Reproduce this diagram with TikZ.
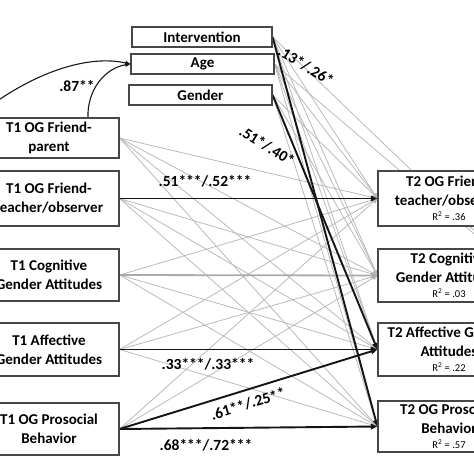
\documentclass[tikz,border=0pt]{standalone}
\usepackage{fontspec}
\setmainfont{Carlito}
\usetikzlibrary{arrows.meta}
\pgfdeclarelayer{bg}
\pgfsetlayers{bg,main}
\newcommand\rsqfont{\fontsize{10.5}{12}\selectfont\mdseries}
\begin{document}
\begin{tikzpicture}[x=1pt,y=-1pt,
  box/.style={draw=black!72,line width=1.2pt,fill=white,align=center,inner sep=0pt,
    font=\fontsize{15}{19}\selectfont\bfseries},
  lbox/.style={box,minimum width=140pt},
  rbox/.style={box,minimum width=142pt},
  tbox/.style={box,minimum height=20pt},
  lab/.style={font=\fontsize{15.5}{17}\selectfont\bfseries,inner sep=0pt},
  gline/.style={draw=black!28,line width=0.75pt,-{Triangle[length=5pt,width=4.5pt]}},
  gthick/.style={draw=black!33,line width=1.8pt,-{Triangle[length=6pt,width=5pt]}},
  bline/.style={draw=black!92,line width=1.9pt,-{Triangle[length=6.5pt,width=5.5pt]}},
  nline/.style={draw=black!28,line width=0.75pt},
  curve/.style={draw=black!90,line width=1.1pt,-{Triangle[length=5pt,width=4pt]}}]
\useasboundingbox (0,0) rectangle (474,474);

% covariate boxes
\node[tbox,minimum width=140pt] (int) at (202,37) {Intervention};
\node[tbox,minimum width=143pt] (age) at (202.5,64) {Age};
\node[tbox,minimum width=143pt] (gen) at (200.5,95) {Gender};

% T1 boxes
\node[lbox,minimum height=40pt] (fp) at (49,138) {T1 OG Friend-\\parent};
\node[lbox,minimum height=55pt] (t1ft) at (49,198.5) {T1 OG Friend-\\teacher/observer};
\node[lbox,minimum height=52pt] (t1cog) at (49,275) {T1 Cognitive\\Gender Attitudes};
\node[lbox,minimum height=53pt] (t1aff) at (49,349.5) {T1 Affective\\Gender Attitudes};
\node[lbox,minimum height=52pt] (t1pro) at (49,429) {T1 OG Prosocial\\Behavior};

% T2 boxes
\node[rbox,minimum height=55pt] (t2ft) at (449,198.5) {T2 OG Friend-\\teacher/observer\\[-4pt]{\rsqfont R\textsuperscript{2} = .36}};
\node[rbox,minimum height=53pt] (t2cog) at (449,275.5) {T2 Cognitive\\Gender Attitudes\\[-4pt]{\rsqfont R\textsuperscript{2} = .03}};
\node[rbox,minimum height=53pt] (t2aff) at (449,349.5) {T2 Affective Gender\\Attitudes\\[-4pt]{\rsqfont R\textsuperscript{2} = .22}};
\node[rbox,minimum height=51pt] (t2pro) at (449,426.5) {T2 OG Prosocial\\Behavior\\[-4pt]{\rsqfont R\textsuperscript{2} = .57}};

\coordinate (cst) at (-10,106);
\coordinate (offa) at (560,313);
\coordinate (offb) at (560,307);

\begin{pgfonlayer}{bg}
\fill[white] (0,0) rectangle (474,474);
% gray paths
\draw[gline] (fp.east) -- (t2ft.west);
\draw[gline] (fp.east) -- (t2cog.west);
\draw[gline] (fp.east) -- (t2aff.west);
\draw[gline] (fp.east) -- (t2pro.west);
\draw[gline] (t1ft.east) -- (t2cog.west);
\draw[gline] (t1ft.east) -- (t2aff.west);
\draw[gline] (t1ft.east) -- (t2pro.west);
\draw[gline] (t1cog.east) -- (t2ft.west);
\draw[gline] (t1cog.east) -- (t2aff.west);
\draw[gline] (t1cog.east) -- (t2pro.west);
\draw[gline] (t1aff.east) -- (t2ft.west);
\draw[gline] (t1aff.east) -- (t2cog.west);
\draw[gline] (t1aff.east) -- (t2pro.west);
\draw[gline] (t1pro.east) -- (t2ft.west);
\draw[gline] (t1pro.east) -- (t2cog.west);
\draw[gline] (int.east) -- (t2ft.west);
\draw[gline] (int.east) -- (t2cog.west);
\draw[gline] (int.east) -- (t2aff.west);
\draw[gline] (age.east) -- (t2ft.west);
\draw[gline] (age.east) -- (t2cog.west);
\draw[gline] (age.east) -- (t2aff.west);
\draw[gline] (age.east) -- (t2pro.west);
\draw[gline] (gen.east) -- (t2ft.west);
\draw[gline] (gen.east) -- (t2cog.west);
\draw[gline] (gen.east) -- (t2pro.west);
\draw[nline] (int.east) -- (offa);
\draw[nline] (age.east) -- (offb);
\draw[gthick] (t1cog.east) -- (t2cog.west);
% significant paths
\draw[bline] (t1ft.east) -- (t2ft.west);
\draw[bline] (t1aff.east) -- (t2aff.west);
\draw[bline] (t1pro.east) -- (t2aff.west);
\draw[bline] (t1pro.east) -- (t2pro.west);
\draw[bline] (int.east) -- (t2pro.west);
\draw[bline] (gen.east) -- (t2aff.west);
\end{pgfonlayer}

% curved arrows
\draw[curve] (cst) .. controls (40,70) and (90,55) .. (age.west);
\draw[curve] ([xshift=39pt]fp.north) .. controls (87,90) and (105,68) .. (age.west);

% labels
\node[lab] (l87) at (77,86) {.87**};
\node[lab] (l51) at (205,181) {.51***/.52***};
\node[lab] (l33) at (208,364) {.33***/.33***};
\node[lab] (l68) at (206,445) {.68***/.72***};
\node[lab,rotate=17] (l61) at (248,404) {.61**/.25**};
\node[lab,rotate=-31] (l13) at (306,66) {.13*/.26*};
\node[lab,rotate=-32] (l51b) at (267,146) {.51*/.40*};
\end{tikzpicture}
\end{document}
